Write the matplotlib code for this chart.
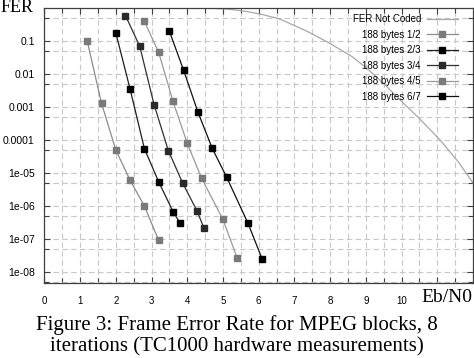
import numpy as np
import matplotlib.pyplot as plt
from matplotlib.ticker import FixedLocator, NullFormatter

# ---- data ----
ebn0_uncoded = [4.7, 5.2, 5.7, 6.1, 6.6, 7.4, 8.0, 8.6, 9.0, 9.5, 9.9, 10.5, 11.1, 11.6, 12.0]
fer_uncoded = [1.0, 0.93, 0.79, 0.65, 0.47, 0.19, 0.085, 0.035, 0.016, 5.2e-3, 1.9e-3, 4.5e-4, 9.5e-5, 2.1e-5, 5e-6]

ebn0_12 = [1.2, 1.6, 2.0, 2.4, 2.8, 3.2]
fer_12 = [0.1, 1.3e-3, 5e-5, 6e-6, 1e-6, 9e-8]

ebn0_23 = [2.0, 2.4, 2.8, 3.2, 3.6, 3.8]
fer_23 = [0.18, 3.5e-3, 5.5e-5, 5.4e-6, 6.8e-7, 3e-7]

ebn0_34 = [2.27, 2.67, 3.07, 3.47, 3.87, 4.27, 4.47]
fer_34 = [0.6, 0.07, 1.2e-3, 4.8e-5, 5e-6, 7.2e-7, 2.1e-7]

ebn0_45 = [2.8, 3.2, 3.6, 4.0, 4.4, 5.0, 5.4]
fer_45 = [0.4, 0.046, 1.5e-3, 8e-5, 7e-6, 3.9e-7, 2.6e-8]

ebn0_67 = [3.5, 3.9, 4.3, 4.7, 5.1, 5.7, 6.1]
fer_67 = [0.2, 0.013, 7e-4, 5.6e-5, 7.6e-6, 3e-7, 2.4e-8]

xtick_labels = ['0', '1', '2', '3', '4', '5', '6', '7', '8', '9', '10']
ytick_vals = [1e-1, 1e-2, 1e-3, 1e-4, 1e-5, 1e-6, 1e-7, 1e-8]
ytick_labels = ['0.1', '0.01', '0.001', '0.0001', '1e-05', '1e-06', '1e-07', '1e-08']

plt.rcParams['font.family'] = ['Liberation Sans', 'DejaVu Sans']
serif = 'Liberation Serif'

fig = plt.figure(figsize=(4.74, 3.58), dpi=100)
ax = fig.add_axes([44.4/474, 1-283/358, (473-44.4)/474, (283-8.3)/358])

ms = 4.3
ax.plot(ebn0_uncoded, fer_uncoded, color='#a8a8a8', lw=0.9, label='FER Not Coded')
ax.plot(ebn0_12, fer_12, color='#8c8c8c', lw=0.9, marker='s', ms=ms, mfc='#7a7a7a', mec='#7a7a7a', label='188 bytes 1/2')
ax.plot(ebn0_23, fer_23, color='#202020', lw=0.9, marker='s', ms=ms, mfc='#000000', mec='#000000', label='188 bytes 2/3')
ax.plot(ebn0_34, fer_34, color='#303030', lw=0.9, marker='s', ms=ms, mfc='#2a2a2a', mec='#2a2a2a', label='188 bytes 3/4')
ax.plot(ebn0_45, fer_45, color='#9a9a9a', lw=0.9, marker='s', ms=ms, mfc='#7a7a7a', mec='#7a7a7a', label='188 bytes 4/5')
ax.plot(ebn0_67, fer_67, color='#101010', lw=0.9, marker='s', ms=ms, mfc='#000000', mec='#000000', label='188 bytes 6/7')

ax.set_yscale('log')
ax.set_xlim(0, 12)
ax.set_ylim(4.6e-9, 1)

ax.set_xticks(range(0, 12))
ax.set_xticklabels(xtick_labels + [''])
ax.xaxis.set_minor_locator(FixedLocator(np.arange(0.5, 12, 1.0)))
ax.set_yticks(ytick_vals)
ax.set_yticklabels(ytick_labels)
ax.yaxis.set_minor_locator(FixedLocator([5 * 10.0**k for k in range(-9, 0)]))
ax.yaxis.set_minor_formatter(NullFormatter())

ax.tick_params(which='both', direction='in', top=True, right=True, color='#404040', width=0.8)
ax.tick_params(which='major', length=4)
ax.tick_params(which='minor', length=3.5)
ax.tick_params(axis='x', labelsize=7, pad=9)
ax.tick_params(axis='y', labelsize=7.5, pad=7)
for s in ax.spines.values():
    s.set_color('#404040')
    s.set_linewidth(0.9)

ax.grid(True, which='both', color='#c8c8c8', lw=0.8, ls=(0, (5, 3)))
ax.set_axisbelow(True)

leg = ax.legend(loc='upper right', bbox_to_anchor=(0.985, 1.01), frameon=False, markerfirst=False,
                numpoints=1, fontsize=7, handlelength=3.2, handletextpad=0.6, labelspacing=0.56)

fig.text(17/474, 1-7/358, 'FER', family=serif, fontsize=13, ha='center', va='center')
fig.text(447/474, 1-297/358, 'Eb/N0', family=serif, fontsize=14, ha='center', va='center')
fig.text(0.5, 1-325/358, 'Figure 3: Frame Error Rate for MPEG blocks, 8', family=serif, fontsize=15,
         ha='center', va='center')
fig.text(0.5, 1-347/358, 'iterations (TC1000 hardware measurements)', family=serif, fontsize=15,
         ha='center', va='center')

fig.savefig('out.png', dpi=100)
